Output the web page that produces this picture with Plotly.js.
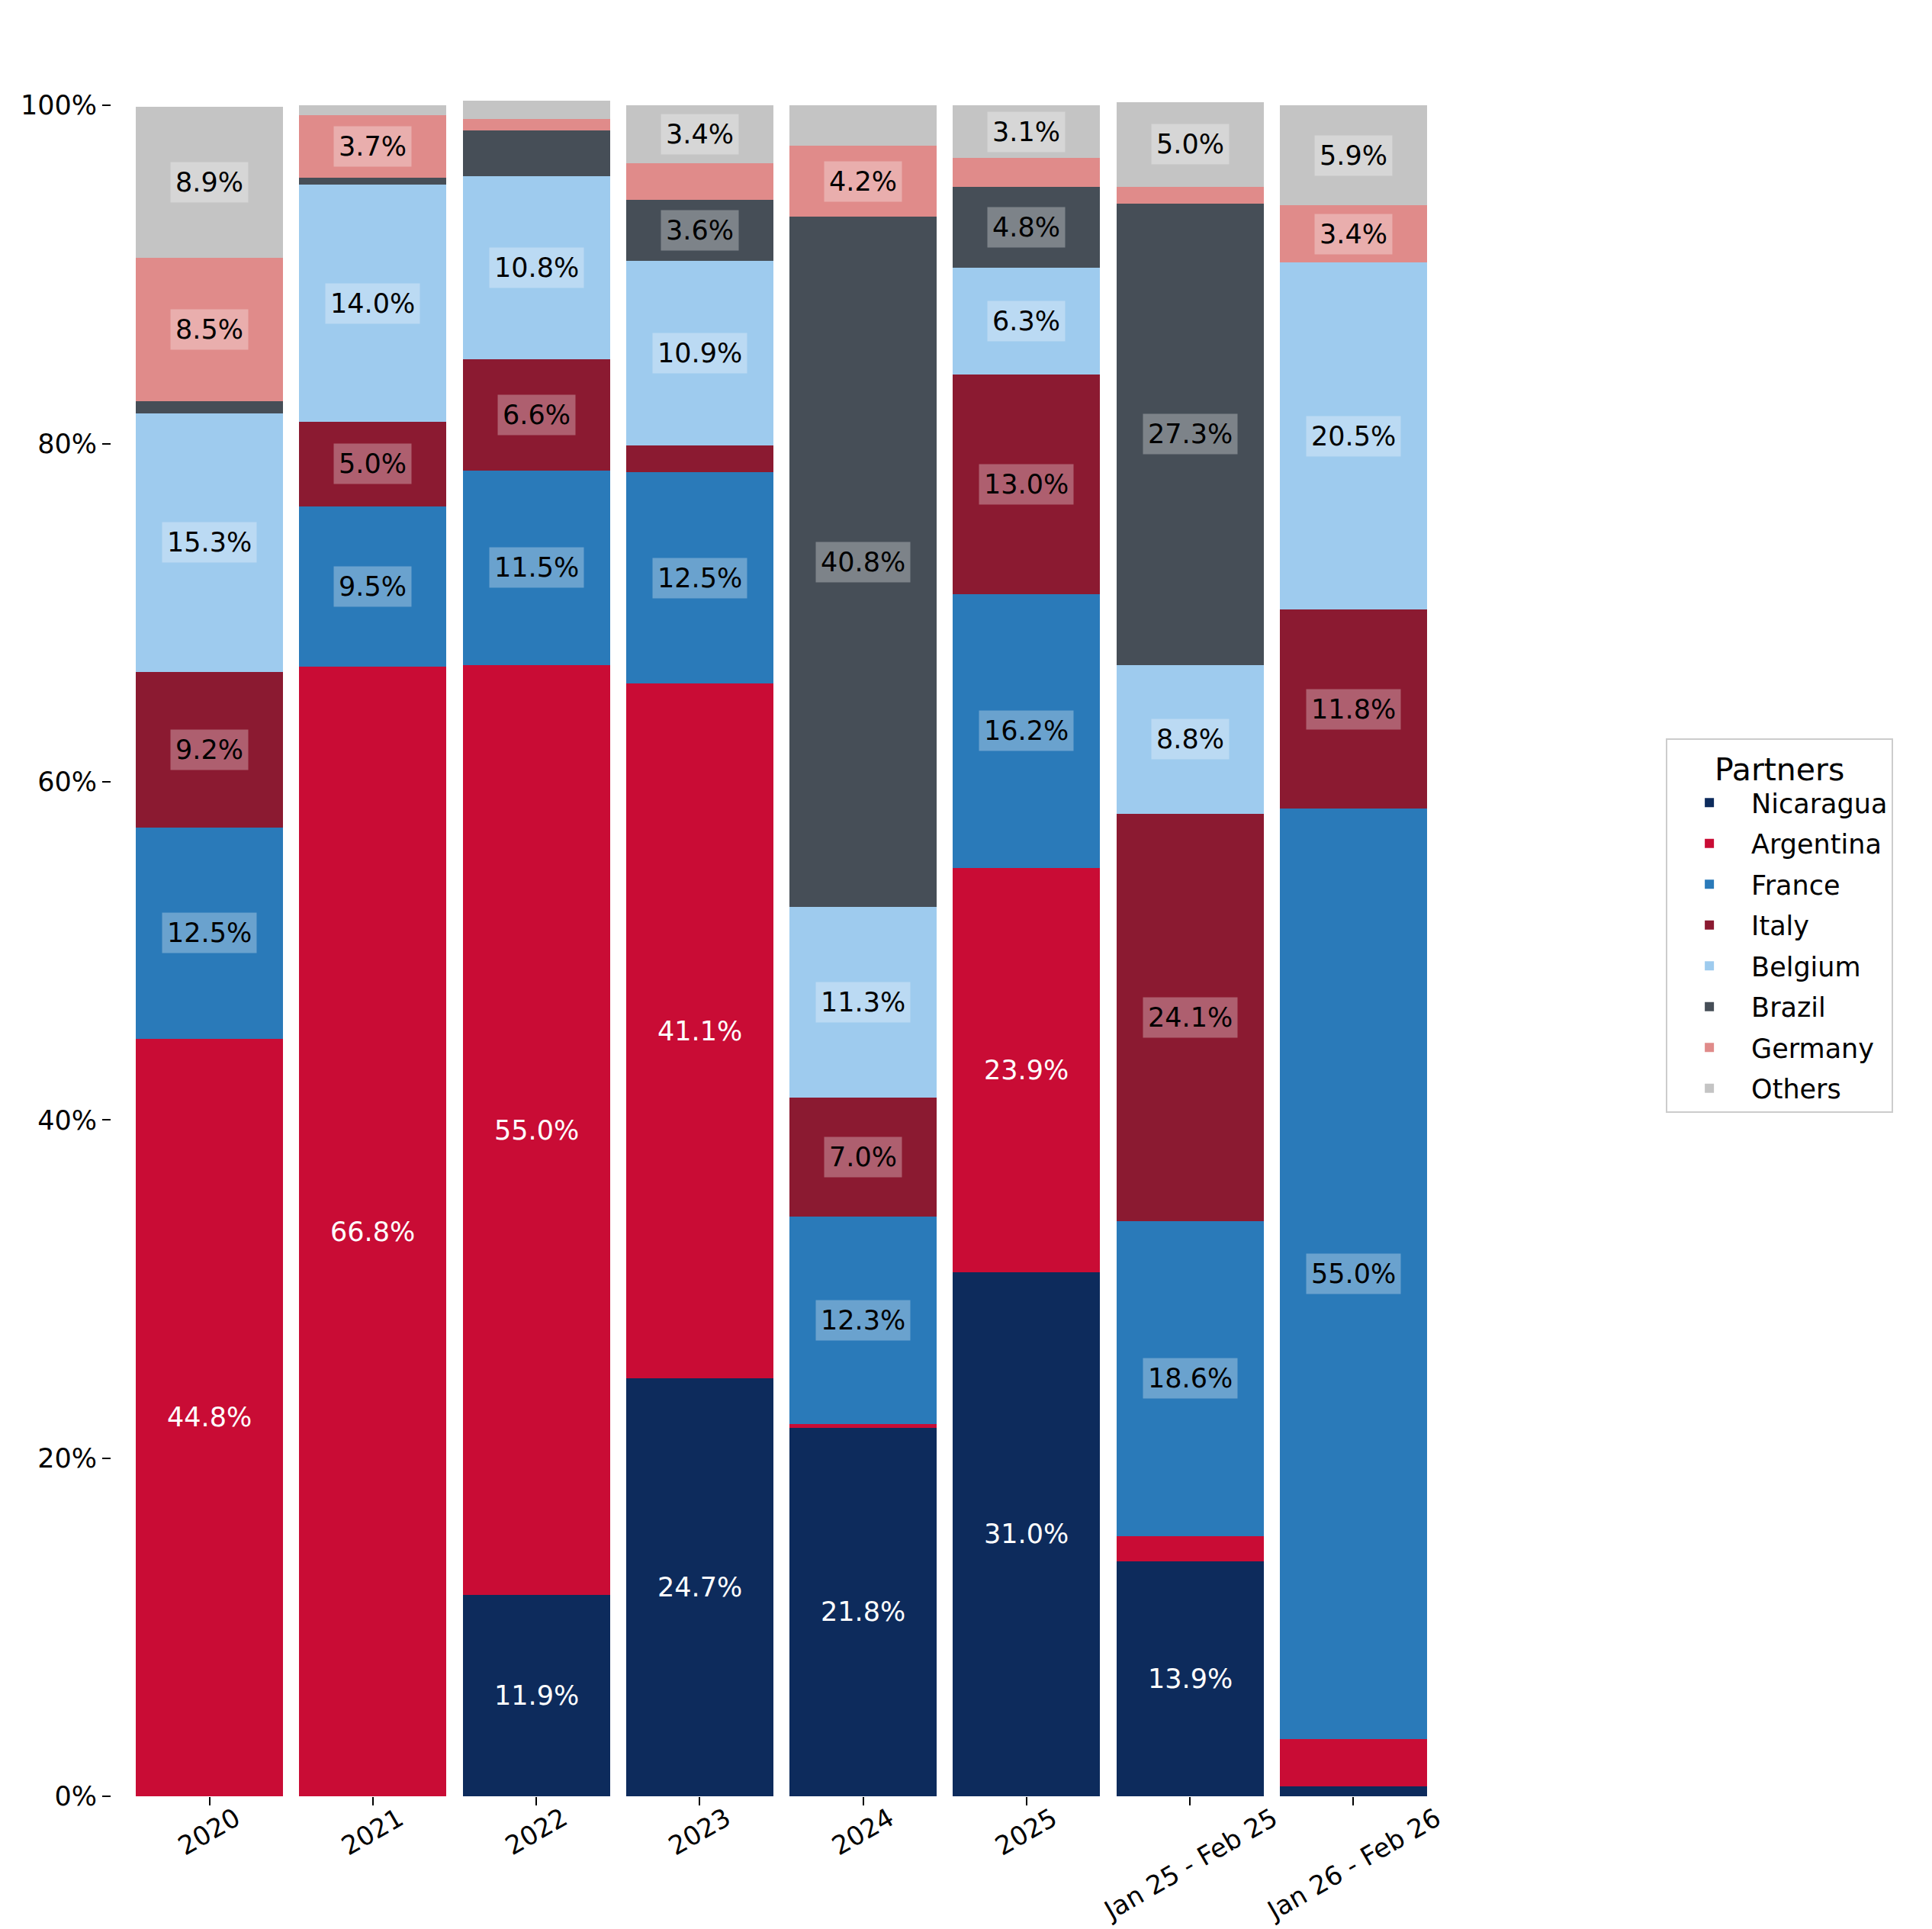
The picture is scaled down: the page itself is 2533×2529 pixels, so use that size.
<!DOCTYPE html>
<html>
<head>
<meta charset="utf-8">
<script src="https://cdn.plot.ly/plotly-3.0.1.min.js"></script>
<style>html,body{margin:0;padding:0;background:#fff;}#chart{width:2533px;height:2529px;}</style>
</head>
<body>
<div id="chart"></div>
<script>
const categories = ['2020', '2021', '2022', '2023', '2024', '2025', 'Jan 25 - Feb 25', 'Jan 26 - Feb 26'];
const partners = ['Nicaragua', 'Argentina', 'France', 'Italy', 'Belgium', 'Brazil', 'Germany', 'Others'];
const nicaragua = [0, 0, 11.9, 24.7, 21.8, 31.0, 13.9, 0.6];
const argentina = [44.8, 66.8, 55.0, 41.1, 0.2, 23.9, 1.5, 2.8];
const france = [12.5, 9.5, 11.5, 12.5, 12.3, 16.2, 18.6, 55.0];
const italy = [9.2, 5.0, 6.6, 1.6, 7.0, 13.0, 24.1, 11.8];
const belgium = [15.3, 14.0, 10.8, 10.9, 11.3, 6.3, 8.8, 20.5];
const brazil = [0.7, 0.4, 2.7, 3.6, 40.8, 4.8, 27.3, 0];
const germany = [8.5, 3.7, 0.7, 2.2, 4.2, 1.7, 1.0, 3.4];
const others = [8.9, 0.6, 1.1, 3.4, 2.4, 3.1, 5.0, 5.9];
const yTickVals = [0, 20, 40, 60, 80, 100];
const yTickText = ['0%', '20%', '40%', '60%', '80%', '100%'];

const series = [nicaragua, argentina, france, italy, belgium, brazil, germany, others];
const colors = ['#0d2b5c', '#c90c35', '#2a7ab9', '#8b1a31', '#9ecbee', '#464e57', '#e08b8a', '#c4c4c4'];
const whiteText = [true, true, false, false, false, false, false, false];
const FONT = 'DejaVu Sans, Liberation Sans, sans-serif';

const traces = series.map((vals, i) => ({
  type: 'bar',
  name: partners[i],
  legendgroup: 'g' + i,
  x: categories,
  y: vals,
  width: 0.9,
  marker: {color: colors[i], line: {width: 0}},
  hoverinfo: 'skip'
}));

const annotations = [];
const cum = categories.map(() => 0);
series.forEach((vals, i) => {
  vals.forEach((v, j) => {
    if (v >= 3) {
      annotations.push({
        x: j, y: cum[j] + v / 2, xref: 'x', yref: 'y',
        text: v.toFixed(1) + '%', showarrow: false,
        font: {family: FONT, size: 35, color: whiteText[i] ? '#ffffff' : '#000000'},
        bgcolor: whiteText[i] ? 'rgba(0,0,0,0)' : 'rgba(255,255,255,0.3)',
        borderpad: 6
      });
    }
    cum[j] += v;
  });
});
categories.forEach((c, j) => {
  annotations.push({
    x: j, xref: 'x', y: 0, yref: 'paper', yanchor: 'top', xanchor: 'center',
    yshift: -6, text: c, textangle: -30, showarrow: false, borderpad: 0,
    font: {family: FONT, size: 34, color: '#000000'}
  });
});

const layout = {
  width: 2533, height: 2529,
  paper_bgcolor: '#ffffff', plot_bgcolor: '#ffffff',
  margin: {l: 146, r: 630, t: 116, b: 174, pad: 0},
  barmode: 'stack',
  font: {family: FONT, size: 35, color: '#000000'},
  xaxis: {
    type: 'category', range: [-0.6, 7.6],
    showgrid: false, zeroline: false, showline: false,
    ticks: 'outside', ticklen: 11, tickwidth: 2, tickcolor: '#000000',
    showticklabels: false
  },
  yaxis: {
    range: [0, 101], tickvals: yTickVals, ticktext: yTickText,
    showgrid: false, zeroline: false, showline: false,
    ticks: 'outside', ticklen: 11, tickwidth: 2, tickcolor: '#000000',
    tickfont: {family: FONT, size: 35, color: '#000000'}
  },
  showlegend: true,
  legend: {
    x: 1.16, xanchor: 'left', y: 0.51, yanchor: 'middle',
    traceorder: 'grouped', tracegroupgap: 5, itemwidth: 100,
    bgcolor: '#ffffff', bordercolor: '#cccccc', borderwidth: 2,
    font: {family: FONT, size: 35, color: '#000000'},
    title: {text: 'Partners', side: 'top center', font: {family: FONT, size: 41, color: '#000000'}}
  },
  annotations: annotations
};

Plotly.newPlot('chart', traces, layout, {staticPlot: true, displayModeBar: false});
</script>
</body>
</html>
